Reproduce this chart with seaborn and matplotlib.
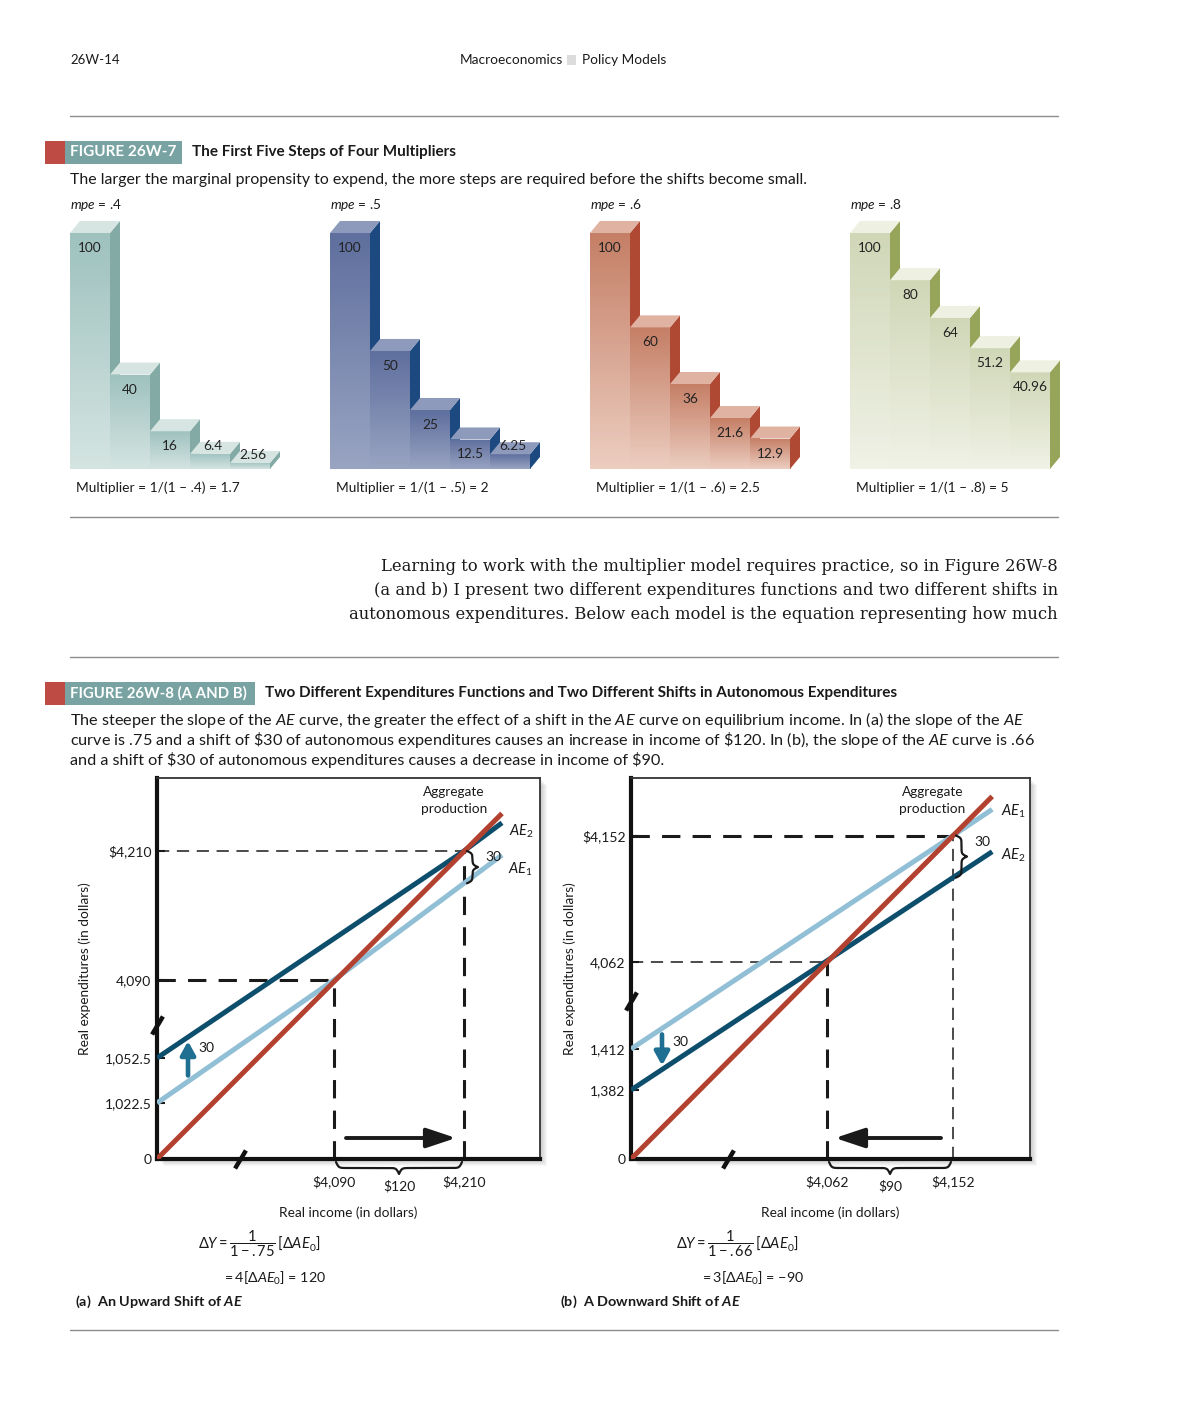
import numpy as np
import seaborn as sns
import matplotlib.pyplot as plt
from matplotlib.colors import LinearSegmentedColormap
from matplotlib.patches import Polygon, Rectangle
from matplotlib.lines import Line2D

W, H = 1200, 1412

# Figure 26W-7: first five steps for four marginal propensities to expend
MPES = [0.4, 0.5, 0.6, 0.8]
STEPS = ['1', '2', '3', '4', '5']
SHIFTS_40 = [100, 40, 16, 6.4, 2.56]
SHIFTS_50 = [100, 50, 25, 12.5, 6.25]
SHIFTS_60 = [100, 60, 36, 21.6, 12.9]
SHIFTS_80 = [100, 80, 64, 51.2, 40.96]

# Figure 26W-8: two AE functions, each with a $30 shift
A_SLOPE = 0.75
A_AE1, A_AE2 = 1022.5, 1052.5
A_EQ = [4090, 4210]          # equilibrium with AE1, with AE2
B_SLOPE = 0.66
B_AE1, B_AE2 = 1412, 1382
B_EQ = [4152, 4062]
SHIFT = 30

# colours: front top, front bottom, side, top face
BAR_COLOURS = [
    ('#9fc2bf', '#d4e4e1', '#84aaa6', '#d6e5e2'),
    ('#5f6f9e', '#99a4c2', '#1c4a80', '#8e9abc'),
    ('#c57f66', '#eccdc0', '#b04934', '#e0b2a1'),
    ('#d0d7b7', '#f0f2e6', '#97a55a', '#eef0e2'),
]
RED, TEAL = '#bf4b45', '#78a3a2'
AP_COL, DARK_AE, LIGHT_AE = '#b3412f', '#0d4e6d', '#91bfd6'
ARROW_BLUE = '#1f6f92'
INK = '#1a1a1a'

sns.set_theme(style='white')
plt.rcParams['font.family'] = ['Lato', 'DejaVu Sans']
plt.rcParams['mathtext.fontset'] = 'custom'
plt.rcParams['mathtext.rm'] = 'Lato'
plt.rcParams['mathtext.it'] = 'Lato:italic'
plt.rcParams['mathtext.bf'] = 'Lato:bold'
plt.rcParams['mathtext.bfit'] = 'Lato:italic:bold'

fig = plt.figure(figsize=(W / 100, H / 100), dpi=100)


def fxy(x, y):
    return x / W, 1 - y / H


def px_rect(left, top, width, height):
    return [left / W, 1 - (top + height) / H, width / W, height / H]


def ftext(x, y, s, **kw):
    kw.setdefault('va', 'center')
    kw.setdefault('color', INK)
    fig.text(*fxy(x, y), s, **kw)


def ptext(xd, yd, s, **kw):
    # text placed at display pixels (origin bottom left)
    kw.setdefault('va', 'center')
    kw.setdefault('ha', 'center')
    kw.setdefault('color', INK)
    kw.setdefault('fontsize', 10)
    fig.text(*fig.transFigure.inverted().transform((xd, yd)), s, **kw)


def fig_rect(x0, y0, x1, y1, color, **kw):
    fig.add_artist(Rectangle(fxy(x0, y1), (x1 - x0) / W, (y1 - y0) / H,
                             transform=fig.transFigure, color=color, lw=0, **kw))


def hrule(y):
    fig.add_artist(Line2D([70 / W, 1058 / W], [1 - y / H] * 2,
                          color='#8c8c8c', lw=1))


def fig_label(y, width, tag, title, tag_size):
    fig_rect(45, y - 11, 65, y + 12, RED)
    fig_rect(65, y - 11, 65 + width, y + 12, TEAL)
    ftext(70, y, tag, color='white', fontweight='bold', fontsize=tag_size)
    ftext(75 + width, y, title, fontweight='bold', fontsize=10.95)


# ---------------------------------------------------------------- page head
ftext(70, 60, '26W-14', fontsize=9.5)
ftext(563, 60, 'Macroeconomics', fontsize=9.8, ha='right')
fig_rect(567, 55, 576, 65, '#dcdcdc')
ftext(582, 60, 'Policy Models', fontsize=9.8)
hrule(116)

# ---------------------------------------------------------------- 26W-7
fig_label(152, 117, 'FIGURE 26W-7', 'The First Five Steps of Four Multipliers', 11)
ftext(70, 180, 'The larger the marginal propensity to expend, the more steps '
      'are required before the shifts become small.', fontsize=11.4)

DX, DY = 0.25, 5.1
grad = np.linspace(0, 1, 64).reshape(-1, 1)
for k, (mpe, vals, cols) in enumerate(
        zip(MPES, [SHIFTS_40, SHIFTS_50, SHIFTS_60, SHIFTS_80], BAR_COLOURS)):
    left = 70 + 260 * k
    ftext(left, 205, r'$\mathit{mpe}$ = ' + f'{mpe:.1f}'.lstrip('0'), fontsize=9.8)
    ax = fig.add_axes(px_rect(left, 469 - 2.36 * 110, 210, 2.36 * 110))
    sns.barplot(x=STEPS, y=vals, ax=ax, color=cols[0], width=1, saturation=1,
                linewidth=0.6, edgecolor=cols[3])
    front_cmap = LinearSegmentedColormap.from_list('f', [cols[1], cols[0]])
    for i, (bar, v) in enumerate(zip(ax.containers[0], vals)):
        x0, w, h = bar.get_x(), bar.get_width(), bar.get_height()
        x1 = x0 + w
        z = 3 * i + 1
        bar.set_zorder(z)
        im = ax.imshow(grad, cmap=front_cmap, extent=(x0, x1, 0, h),
                       origin='lower', aspect='auto', zorder=z + 0.1)
        im.set_clip_path(bar)
        ax.add_patch(Polygon([(x1, 0), (x1 + DX, DY), (x1 + DX, h + DY), (x1, h)],
                             closed=True, color=cols[2], lw=0, zorder=z + 1))
        ax.add_patch(Polygon([(x0, h), (x0 + DX, h + DY), (x1 + DX, h + DY), (x1, h)],
                             closed=True, color=cols[3], lw=0, zorder=z + 2))
        # label sits on the front face, or on the top face for the tiny steps
        off = (0, -15 * 0.72) if h >= 10 else (3 * 0.72, 8 * 0.72)
        ax.annotate(f'{v:g}', xy=(x0 + w / 2, h), xytext=off,
                    textcoords='offset points', ha='center', va='center',
                    fontsize=9.8, color='#222222', zorder=3 * len(vals) + 5)
    ax.set_xlim(-0.5, 4.75)
    ax.set_ylim(0, 110)
    ax.axis('off')
    mult = f'{1 / (1 - mpe):.1f}'.rstrip('0').rstrip('.')
    ftext(left + 6, 488, f'Multiplier = 1/(1 \u2013 {mpe:.1f})'.replace('0.', '.')
          + f' = {mult}', fontsize=9.9)

hrule(517)

# ---------------------------------------------------------------- text
para = ['Learning to work with the multiplier model requires practice, so in Figure 26W-8',
        '(a and b) I present two different expenditures functions and two different shifts in',
        'autonomous expenditures. Below each model is the equation representing how much']
for j, line in enumerate(para):
    ftext(1058, 567 + 23.5 * j, line, ha='right', fontsize=11.75,
          family='DejaVu Serif')

hrule(657)

# ---------------------------------------------------------------- 26W-8
fig_label(693, 190, 'FIGURE 26W-8 (A AND B)',
          'Two Different Expenditures Functions and Two Different Shifts in '
          'Autonomous Expenditures', 10.7)
cap8 = [r'The steeper the slope of the $\mathit{AE}$ curve, the greater the effect of a '
        r'shift in the $\mathit{AE}$ curve on equilibrium income. In (a) the slope of the $\mathit{AE}$',
        r'curve is .75 and a shift of \$30 of autonomous expenditures causes an increase in '
        r'income of \$120. In (b), the slope of the $\mathit{AE}$ curve is .66',
        r'and a shift of \$30 of autonomous expenditures causes a decrease in income of \$90.']
for j, line in enumerate(cap8):
    ftext(70, 720 + 20 * j, line, fontsize=11.7)


def piecewise(vals, pos):
    vals = [-1e5] + list(vals) + [1e5]
    pos = [-1e5] + list(pos) + [1e5]
    return (lambda v: np.interp(v, vals, pos), lambda p: np.interp(p, pos, vals))


def brace(p0, p1, depth):
    p0, p1 = np.asarray(p0, float), np.asarray(p1, float)
    d = p1 - p0
    L = np.hypot(*d)
    u = d / L
    n = np.array([u[1], -u[0]])
    t = np.linspace(0, L / 2, 80)
    beta = 9 / depth
    half = 1 / (1 + np.exp(-beta * t)) + 1 / (1 + np.exp(-beta * (t - L / 2))) - 0.5
    prof = np.concatenate([half, half[-2::-1]])
    s = np.concatenate([t, L - t[-2::-1]])
    pts = p0 + np.outer(s, u) + np.outer(prof * depth, n)
    pts = fig.transFigure.inverted().transform(pts)
    fig.add_artist(Line2D(pts[:, 0], pts[:, 1], color=INK, lw=1.6,
                          solid_capstyle='round'))


def ae_chart(rect, slope, ae1, ae2, eq, xknots, yknots, x_end, v_thick, tag,
             title, label_offsets, prod_x):
    left, top, width, height = rect
    for s in range(1, 8):
        fig_rect(left + s, top + s, left + width + s, top + height + s,
                 '#000000', alpha=0.03, zorder=-1)
    ax = fig.add_axes(px_rect(*rect))
    ax.set_facecolor('white')
    ax.set_xscale('function', functions=piecewise(*xknots))
    ax.set_yscale('function', functions=piecewise(*yknots))
    ax.set_xlim(0, xknots[0][-1])
    ax.set_ylim(0, yknots[0][-1])

    # dashed guides
    for j, (e, vt) in enumerate(zip(eq, v_thick)):
        ax.plot([0, e], [e, e], color=INK, lw=2.2 if j == 0 else 1.1,
                dashes=(6, 4) if j == 0 else (8, 5), zorder=2)
        ax.plot([e, e], [0, e], color=INK, lw=2.2 if vt else 1.1,
                dashes=(6, 4) if vt else (8, 5), zorder=2)

    lines = {}
    for name, a, e, col in [('AE1', ae1, eq[0], LIGHT_AE), ('AE2', ae2, eq[1], DARK_AE)]:
        xs = np.array([0, e, x_end], float)
        ys = a + slope * xs
        sns.lineplot(x=xs, y=ys, ax=ax, color=col, lw=3.6, sort=False,
                     solid_capstyle='butt', zorder=3)
        lines[name] = (xs, ys)
    xs = np.array([0, x_end], float)
    sns.lineplot(x=xs, y=xs, ax=ax, color=AP_COL, lw=3.6, sort=False,
                 solid_capstyle='butt', zorder=4)

    for side in ['left', 'bottom']:
        ax.spines[side].set_linewidth(3)
        ax.spines[side].set_color('#111111')
    for side in ['top', 'right']:
        ax.spines[side].set_linewidth(1.3)
        ax.spines[side].set_color('#333333')

    yt = sorted([0, ae1, ae2] + list(eq))
    ylab = [f'{v:,}' for v in yt]
    ylab[-1] = r'\$' + ylab[-1]
    ax.set_yticks(yt, ylab)
    ax.set_xticks(eq, [rf'\${v:,}' for v in eq])
    ax.tick_params(axis='y', left=True, direction='in', length=6, width=1.5,
                   pad=4, labelsize=10, colors=INK)
    ax.tick_params(axis='x', bottom=False, pad=5.5, labelsize=10, colors=INK)
    ax.minorticks_off()

    def disp(x, y):
        return ax.transData.transform((x, y))

    def on_line(name, xd):
        pts = ax.transData.transform(np.column_stack(lines[name]))
        return np.interp(xd, pts[:, 0], pts[:, 1])

    ox, oy = disp(0, 0)
    ax.set_ylabel('Real expenditures (in dollars)', fontsize=9.8, color=INK)
    ax.yaxis.set_label_coords(-(left - (91 if tag == 'a' else 576)) / width, 0.5)
    ax.set_xlabel('Real income (in dollars)', fontsize=9.8, color=INK)
    ax.xaxis.set_label_coords(0.5, -0.125)
    ax.text(prod_x, 0.94, 'Aggregate\nproduction', transform=ax.transAxes,
            ha='center', va='center', fontsize=9.8, linespacing=1.5, color=INK)
    for name in ['AE1', 'AE2']:
        xd, yd = disp(lines[name][0][-1], lines[name][1][-1])
        dx, dy = label_offsets[name]
        ptext(xd + dx, yd + dy, rf'$\mathit{{AE}}_{name[-1]}$', ha='left',
              fontsize=10.5)

    # vertical brace: the $30 gap at the equilibrium on the upper AE line
    x_b = disp(eq[0] if tag == 'b' else eq[1], 0)[0]
    ya, yb = on_line('AE1', x_b), on_line('AE2', x_b)
    lo, hi = min(ya, yb), max(ya, yb)
    brace((x_b + 3, lo), (x_b + 3, hi), 11)
    ptext(x_b + 29, hi - 6, f'{SHIFT}')

    # shift arrow near the vertical axis
    xa = ox + 31
    y1, y2 = on_line('AE1', xa), on_line('AE2', xa)
    sgn = np.sign(y2 - y1)
    ax.annotate('', xy=(xa, y2 - 4 * sgn), xytext=(xa, y1 + 6 * sgn),
                xycoords='figure pixels', textcoords='figure pixels',
                arrowprops=dict(arrowstyle='-|>,head_length=0.4,head_width=0.22',
                                lw=3.3, color=ARROW_BLUE, mutation_scale=20,
                                shrinkA=0, shrinkB=0))
    ptext(xa + 18, max(y1, y2) - 11 if tag == 'a' else max(y1, y2) - 14, f'{SHIFT}')

    # horizontal arrow and brace along the income axis
    x1d, x2d = disp(eq[0], 0)[0], disp(eq[1], 0)[0]
    sx = np.sign(x2d - x1d)
    ya_ = oy + 21
    ax.annotate('', xy=(x2d - 8 * sx, ya_), xytext=(x1d + 12 * sx, ya_),
                xycoords='figure pixels', textcoords='figure pixels',
                arrowprops=dict(arrowstyle='-|>,head_length=0.9,head_width=0.3',
                                lw=2.8, color=INK, mutation_scale=20,
                                shrinkA=0, shrinkB=0))
    bl, br = min(x1d, x2d), max(x1d, x2d)
    brace((bl + 2, oy - 3), (br - 2, oy - 3), 12)
    ptext((bl + br) / 2, oy - 27, rf'\${abs(eq[1] - eq[0]):,}')

    # axis break marks
    for pos, axis in [(134 / height if tag == 'a' else 158 / height, 'y'),
                      (83 / width if tag == 'a' else 97 / width, 'x')]:
        xy = (0, pos) if axis == 'y' else (pos, 0)
        ax.plot(*xy, transform=ax.transAxes, clip_on=False,
                marker=[(-0.6, -1), (-0.1, -0.15), (0.1, 0.15), (0.6, 1)],
                ms=13, mfc='none', mec='#111111', mew=3.2, zorder=6)

    # multiplier equation below the chart
    mult = round(1 / (1 - slope))
    dy_val = mult * SHIFT * (1 if tag == 'a' else -1)
    eq_left = left + (41 if tag == 'a' else 45)
    frac = rf'$\Delta \mathit{{Y}} = \dfrac{{1}}{{1 - {slope:.2f}}}\,[\Delta \mathit{{AE}}_0]$'
    ftext(eq_left, 1244, frac.replace('0.', '.').replace('_.', '_0'), fontsize=10.5)
    sign = '\u2212' if dy_val < 0 else ''
    ftext(eq_left + 24, 1278, rf'$= {mult}[\Delta \mathit{{AE}}_0]$ = {sign}{abs(dy_val)}',
          fontsize=10.3)
    ftext(left - (82 if tag == 'a' else 71), 1302, title, fontweight='bold',
          fontsize=10.4)
    return ax


ae_chart((157, 778, 383, 381), A_SLOPE, A_AE1, A_AE2, A_EQ,
         ([0, A_EQ[0], A_EQ[1], 4280], [0, 177, 307, 383]),
         ([0, A_AE1, A_AE2, A_EQ[0], A_EQ[1], 4278], [0, 56, 101, 179, 308, 381]),
         4245, [True, True], 'a', r'(a)  An Upward Shift of $\mathbfit{AE}$',
         {'AE1': (6, -14), 'AE2': (7, -8)}, 0.775)
ae_chart((631, 778, 399, 381), B_SLOPE, B_AE1, B_AE2, B_EQ,
         ([0, B_EQ[1], B_EQ[0], 4207], [0, 196, 322, 399]),
         ([0, B_AE2, B_AE1, B_EQ[1], B_EQ[0], 4193], [0, 69, 110, 197, 323, 381]),
         4180, [False, True], 'b', r'(b)  A Downward Shift of $\mathbfit{AE}$',
         {'AE1': (9, -2), 'AE2': (9, -4)}, 0.755)

hrule(1330)

fig.savefig('out.png', dpi=100, facecolor='white')
